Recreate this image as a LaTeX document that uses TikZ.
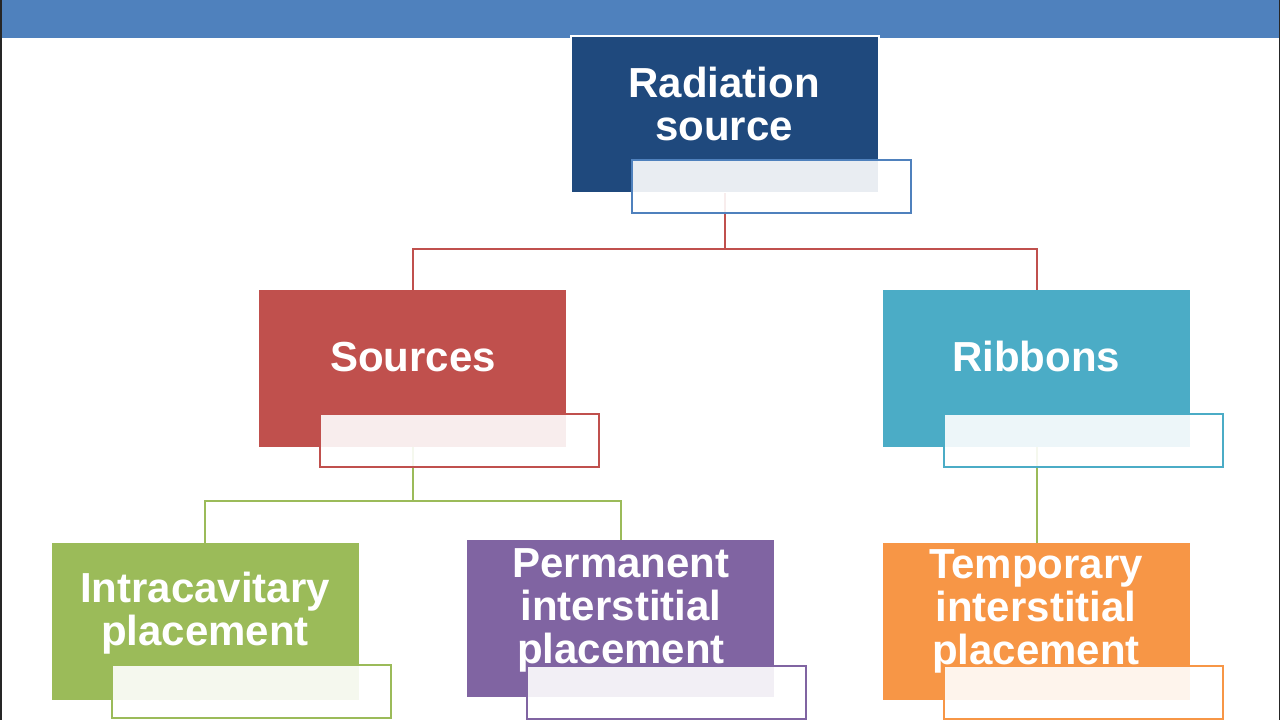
\documentclass[tikz,border=0pt]{standalone}
\usepackage{fontspec}
\setmainfont{Liberation Sans}
\definecolor{hdr}{HTML}{4F81BD}
\definecolor{navy}{HTML}{1F497D}
\definecolor{cred}{HTML}{C0504D}
\definecolor{cteal}{HTML}{4BACC6}
\definecolor{cgreen}{HTML}{9BBB59}
\definecolor{cpurple}{HTML}{8064A2}
\definecolor{corange}{HTML}{F79646}
\tikzset{
  mainbox/.style={draw=none, minimum width=307pt, minimum height=157pt, inner sep=0pt, outer sep=0pt},
  subbox/.style={draw=#1, line width=2pt, fill=white, fill opacity=0.9, minimum width=279pt, minimum height=53pt, inner sep=0pt, outer sep=0pt},
  lbl/.style={text=white, font=\bfseries\fontsize{42}{43}\selectfont, align=center, inner sep=0pt},
  link/.style={line width=2pt}
}
\begin{document}
\begin{tikzpicture}[x=1pt,y=-1pt]
\useasboundingbox (0,0) rectangle (1280,720);
\fill[white] (0,0) rectangle (1280,720);
\fill[hdr] (0,0) rectangle (1280,38);
% main boxes
\node[mainbox, fill=navy, draw=white, line width=2pt, minimum width=308pt] (rs) at (725,114.5) {};
\node[mainbox, fill=cred] (src) at (412.5,368.5) {};
\node[mainbox, fill=cteal] (rib) at (1036.5,368.5) {};
\node[mainbox, fill=cgreen] (intra) at (205,621.5) {};
\node[mainbox, fill=cpurple] (perm) at (620.5,618.5) {};
\node[mainbox, fill=corange] (temp) at (1036.5,621.5) {};
% labels (anchor=base is the last line's baseline)
\node[lbl, anchor=base] (rsT) at (724,140) {Radiation\\source};
\node[lbl, anchor=base] (srcT) at (413,371) {Sources};
\node[lbl, anchor=base] (ribT) at (1036,371) {Ribbons};
\node[lbl, anchor=base] (intraT) at (205,645) {Intracavitary\\placement};
\node[lbl, anchor=base] (permT) at (621,663) {Permanent\\interstitial\\placement};
\node[lbl, anchor=base] (tempT) at (1036,664) {Temporary\\interstitial\\placement};
% connectors
\coordinate (j1) at (725,249);
\coordinate (j2) at (412.5,501);
\draw[link, cred] (rs.south) -- (j1) -| (src.north);
\draw[link, cred] (j1) -| (rib.north);
\draw[link, cgreen] (src.south) -- (j2) -| (intra.north);
\draw[link, cgreen] (j2) -| (perm.north);
\draw[link, cgreen] (rib.south) -- (temp.north);
% sub boxes
\node[subbox=hdr] (rsS) at (771,186) {};
\node[subbox=cred] (srcS) at (459,440) {};
\node[subbox=cteal] (ribS) at (1083,440) {};
\node[subbox=cgreen] (intraS) at (251.5,691.5) {};
\node[subbox=cpurple] (permS) at (666.5,692) {};
\node[subbox=corange] (tempS) at (1083,692) {};
% frame edges
\draw[line width=1.5pt, black!85] (0.75,0) -- (0.75,720);
\draw[line width=1.5pt, black!85] (1279.25,0) -- (1279.25,720);
\end{tikzpicture}
\end{document}
